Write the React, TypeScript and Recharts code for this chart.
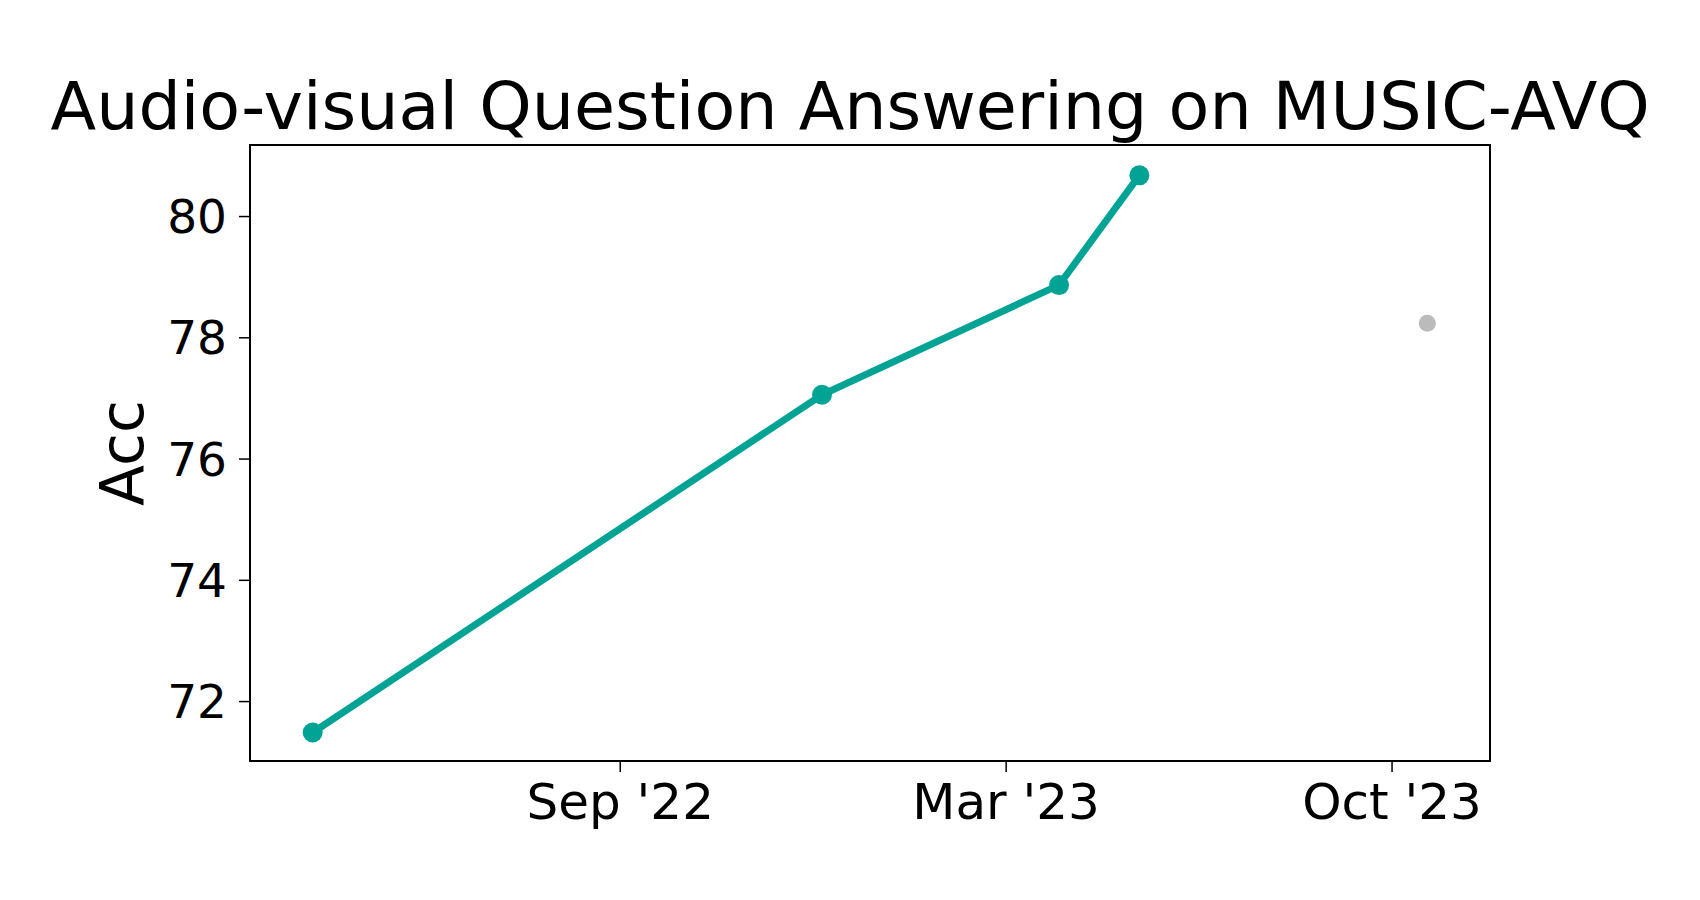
import React from 'react';
import { LineChart, Line, XAxis, YAxis, Label, ReferenceArea } from 'recharts';

const TEAL = '#00a394';
const GRAY = '#bbbbbb';
const FONT = '"DejaVu Sans", sans-serif';

// model results (release date, accuracy)
const dates = ['2022-04-10', '2022-12-26', '2023-04-26', '2023-06-06'];
const acc = [71.49, 77.06, 78.87, 80.68];
const otherDates = ['2023-10-31'];
const otherAcc = [78.24];

const tickDates = ['2022-09-14', '2023-03-30', '2023-10-13'];
const tickLabels = ["Sep '22", "Mar '23", "Oct '23"];
const yTicks = [72, 74, 76, 78, 80];
const xRange = ['2022-03-09', '2023-12-02'];
const yRange = [71.02, 81.18];

const toDay = (s: string) => Date.parse(s + 'T00:00:00Z') / 86400000;

const sotaData = dates.map((d, i) => ({ x: toDay(d), y: acc[i] }));
const otherData = otherDates.map((d, i) => ({ x: toDay(d), y: otherAcc[i] }));
const xTicks = tickDates.map(toDay);
const xDomain = xRange.map(toDay);
const fmtX = (v: number) => tickLabels[xTicks.indexOf(v)] ?? '';

export default function App() {
  return (
    <div style={{ position: 'absolute', left: 0, top: 0, width: 1700, height: 900, background: '#fff', fontFamily: FONT }}>
      {/* the saved figure cuts the title off on the right */}
      <div style={{ position: 'absolute', left: 0, top: 0, width: 1650, height: 160, overflow: 'hidden' }}>
        <div
          style={{
            position: 'absolute',
            left: 873,
            top: 73,
            transform: 'translateX(-50%)',
            whiteSpace: 'nowrap',
            fontSize: 66.7,
            lineHeight: '67px',
            color: '#000',
          }}
        >
          Audio-visual Question Answering on MUSIC-AVQA
        </div>
      </div>
      <LineChart
        width={1700}
        height={900}
        margin={{ top: 145, right: 210, bottom: 49, left: 100 }}
        style={{ position: 'absolute', left: 0, top: 0 }}
      >
        <XAxis
          dataKey="x"
          type="number"
          domain={xDomain}
          ticks={xTicks}
          tickFormatter={fmtX}
          allowDataOverflow
          height={90}
          tickSize={11}
          tickMargin={11}
          axisLine={false}
          tickLine={{ stroke: '#000', strokeWidth: 1.5 }}
          tick={{ fill: '#000', fontSize: 50, fontFamily: FONT }}
          interval={0}
        />
        <YAxis
          type="number"
          domain={yRange}
          ticks={yTicks}
          allowDataOverflow
          width={150}
          tickSize={11}
          tickMargin={12}
          axisLine={false}
          tickLine={{ stroke: '#000', strokeWidth: 1.5 }}
          tick={{ fill: '#000', fontSize: 47, fontFamily: FONT }}
          interval={0}
        >
          <Label
            content={({ viewBox }: any) => {
              const bx = viewBox.x + 43;
              const cy = viewBox.y + viewBox.height / 2;
              return (
                <text
                  x={bx}
                  y={cy}
                  transform={`rotate(-90, ${bx}, ${cy})`}
                  textAnchor="middle"
                  fontSize={60}
                  fontFamily={FONT}
                  fill="#000"
                >
                  Acc
                </text>
              );
            }}
          />
        </YAxis>
        <ReferenceArea
          x1={xDomain[0]}
          x2={xDomain[1]}
          y1={yRange[0]}
          y2={yRange[1]}
          fill="none"
          stroke="#000"
          strokeWidth={2}
          ifOverflow="visible"
        />
        <Line
          data={sotaData}
          dataKey="y"
          stroke={TEAL}
          strokeWidth={7}
          dot={{ r: 10, fill: TEAL, stroke: 'none' }}
          activeDot={false}
          isAnimationActive={false}
        />
        <Line
          data={otherData}
          dataKey="y"
          stroke="none"
          dot={{ r: 8.5, fill: GRAY, stroke: 'none' }}
          activeDot={false}
          isAnimationActive={false}
        />
      </LineChart>
    </div>
  );
}
